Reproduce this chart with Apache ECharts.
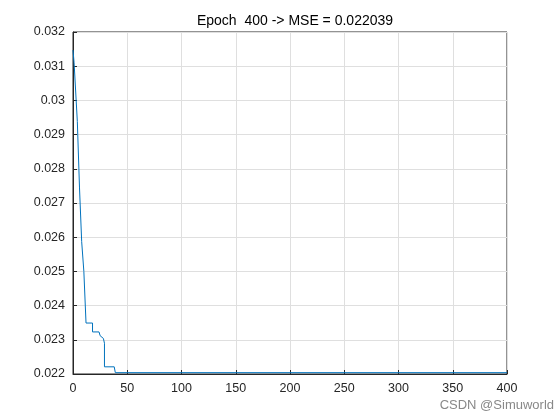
<!DOCTYPE html>
<html><head><meta charset="utf-8">
<script src="https://cdn.jsdelivr.net/npm/echarts@6/dist/echarts.min.js"></script>
<style>html,body{margin:0;background:#fff}#c{width:560px;height:420px}</style>
</head><body><div id="c"></div>
<script>
const epochs = [0, 1, 4, 6, 8, 10, 12, 18, 18, 24, 25, 28, 29, 29, 38, 39, 400];
const mse = [0.03147, 0.0311, 0.02938, 0.02744, 0.02587, 0.0250, 0.02349, 0.02349, 0.02323, 0.02323, 0.02312, 0.02304, 0.0229, 0.02221, 0.02221, 0.022039, 0.022039];
const titleText = 'Epoch  400 -> MSE = 0.022039';
const data = epochs.map((e, i) => [e, mse[i]]);
const chart = echarts.init(document.getElementById('c'));
const ax = {
  axisLine: {show: true, onZero: false, lineStyle: {color: '#262626', width: 1}},
  axisTick: {show: true, inside: true, length: 4, lineStyle: {color: '#262626'}},
  axisLabel: {color: '#262626', fontFamily: 'Liberation Sans, Arial', fontSize: 12.5},
  splitLine: {show: true, lineStyle: {color: '#dfdfdf'}}
};
chart.setOption({
  animation: false,
  title: {text: titleText, left: 290, top: 9, textAlign: 'center',
    textStyle: {fontSize: 14, fontWeight: 'normal', color: '#000', fontFamily: 'Liberation Sans, Arial'}},
  grid: {left: 73, right: 53, top: 32, bottom: 46, show: true, borderColor: '#262626', borderWidth: 1},
  xAxis: Object.assign({type: 'value', min: 0, max: 400, interval: 50}, ax),
  yAxis: Object.assign({type: 'value', min: 0.022, max: 0.032, interval: 0.001,
    axisLabel: Object.assign({}, ax.axisLabel, {formatter: v => String(+v.toFixed(3))})}, ax),
  series: [{type: 'line', data: data, showSymbol: false,
    lineStyle: {color: '#0072BD', width: 1}}],
  graphic: [{type: 'text', right: 6, bottom: 8,
    style: {text: 'CSDN @Simuworld', fill: '#888', font: '13px Liberation Sans, Arial'}}]
});
</script></body></html>
